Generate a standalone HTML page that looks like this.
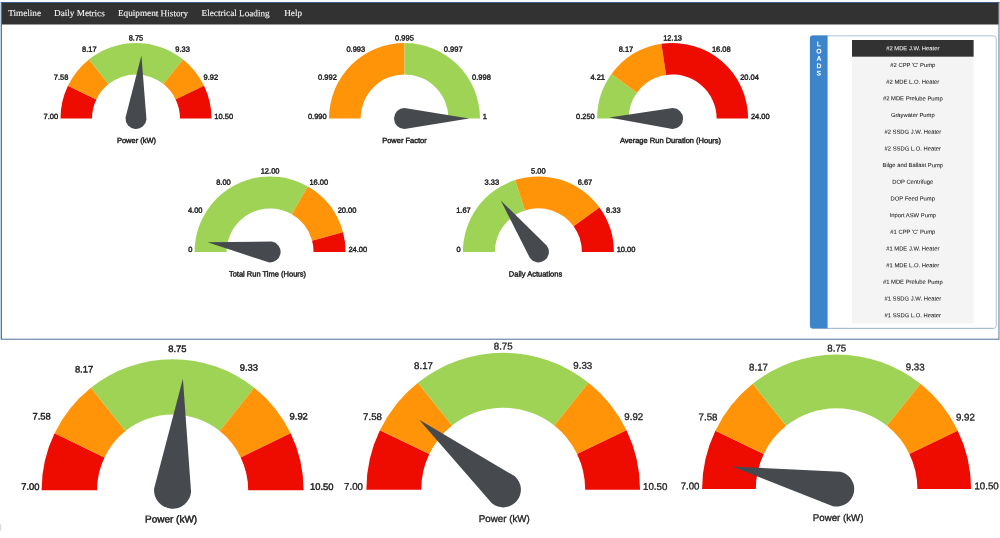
<!DOCTYPE html>
<html>
<head>
<meta charset="utf-8">
<title>Dashboard</title>
<style>
html, body { margin: 0; padding: 0; background: #fff; }
body { width: 1000px; height: 538px; position: relative; overflow: hidden;
  font-family: "Liberation Sans", sans-serif; }
svg { position: absolute; left: 0; top: 0; }
svg text { font-family: "Liberation Sans", sans-serif; }
#t { will-change: transform; }
</style>
</head>
<body>
<svg width="1000" height="538" viewBox="0 0 1000 538">
<!-- outer panel -->
<rect x="0" y="2" width="1" height="337.5" fill="#c4d8ee"/>
<rect x="1.45" y="2.5" width="997.55" height="336.7" fill="#fff" stroke="#4c7199" stroke-width="1"/>
<rect x="999.5" y="2" width="0.5" height="337.5" fill="#b5cbe6"/>
<!-- navbar -->
<rect x="1.95" y="2.6" width="996.6" height="21.9" fill="#323232"/>
<rect x="1" y="2" width="998.5" height="0.9" fill="#3f6187"/>
<ellipse cx="-0.6" cy="527.5" rx="2" ry="4.2" fill="#dcdcdc"/>
<!-- loads panel -->
<rect x="810.3" y="35.8" width="185.9" height="292.5" rx="2.5" fill="#fff" stroke="#a3bbd6" stroke-width="0.9"/>
<path d="M810 38.2a2.6 2.6 0 0 1 2.6 -2.6H827.6V328.4H812.6a2.6 2.6 0 0 1 -2.6 -2.6Z" fill="#3d85cb"/>
<rect x="812" y="328.2" width="182" height="0.8" fill="#8fa9c6" opacity="0.6"/>
<rect x="852.0" y="40.0" width="121.6" height="283.56" fill="#f4f4f4"/>
<rect x="852.0" y="40.0" width="121.6" height="16.68" fill="#323232"/>
<path d="M60.50 118.50A75.5 75.5 0 0 1 67.98 85.74L96.36 99.41A44.0 44.0 0 0 0 92.00 118.50Z" fill="#ee0c00"/>
<path d="M67.98 85.74A75.5 75.5 0 0 1 88.93 59.47L108.57 84.10A44.0 44.0 0 0 0 96.36 99.41Z" fill="#ff9408"/>
<path d="M88.93 59.47A75.5 75.5 0 0 1 183.07 59.47L163.43 84.10A44.0 44.0 0 0 0 108.57 84.10Z" fill="#9fd356"/>
<path d="M183.07 59.47A75.5 75.5 0 0 1 204.02 85.74L175.64 99.41A44.0 44.0 0 0 0 163.43 84.10Z" fill="#ff9408"/>
<path d="M204.02 85.74A75.5 75.5 0 0 1 211.50 118.50L180.00 118.50A44.0 44.0 0 0 0 175.64 99.41Z" fill="#ee0c00"/>
<path d="M146.46 119.40L141.41 55.43L125.54 117.60A10.5 10.5 0 0 0 135.10 128.96A10.5 10.5 0 0 0 146.46 119.40Z" fill="#464a4f"/>
<path d="M329.00 118.50A75.5 75.5 0 0 1 404.50 43.00L404.50 74.50A44.0 44.0 0 0 0 360.50 118.50Z" fill="#ff9408"/>
<path d="M404.50 43.00A75.5 75.5 0 0 1 480.00 118.50L448.50 118.50A44.0 44.0 0 0 0 404.50 74.50Z" fill="#9fd356"/>
<path d="M404.50 129.00L469.00 118.50L404.50 108.00A10.5 10.5 0 0 0 394.00 118.50A10.5 10.5 0 0 0 404.50 129.00Z" fill="#464a4f"/>
<path d="M597.10 118.50A75.5 75.5 0 0 1 611.52 74.12L637.00 92.64A44.0 44.0 0 0 0 628.60 118.50Z" fill="#9fd356"/>
<path d="M611.52 74.12A75.5 75.5 0 0 1 661.40 43.84L666.07 74.99A44.0 44.0 0 0 0 637.00 92.64Z" fill="#ff9408"/>
<path d="M661.40 43.84A75.5 75.5 0 0 1 748.10 118.50L716.60 118.50A44.0 44.0 0 0 0 666.07 74.99Z" fill="#ee0c00"/>
<path d="M672.75 108.00L609.31 117.62L672.45 129.00A10.5 10.5 0 0 0 683.10 118.65A10.5 10.5 0 0 0 672.75 108.00Z" fill="#464a4f"/>
<path d="M194.60 251.90A75.5 75.5 0 0 1 307.85 186.52L291.85 214.23A43.5 43.5 0 0 0 226.60 251.90Z" fill="#9fd356"/>
<path d="M307.85 186.52A75.5 75.5 0 0 1 343.03 232.36L312.12 240.64A43.5 43.5 0 0 0 291.85 214.23Z" fill="#ff9408"/>
<path d="M343.03 232.36A75.5 75.5 0 0 1 345.60 251.90L313.60 251.90A43.5 43.5 0 0 0 312.12 240.64Z" fill="#ee0c00"/>
<path d="M271.69 241.52L207.53 242.33L268.51 262.28A10.5 10.5 0 0 0 280.48 253.49A10.5 10.5 0 0 0 271.69 241.52Z" fill="#464a4f"/>
<path d="M462.90 251.90A75.5 75.5 0 0 1 515.07 180.10L524.96 210.53A43.5 43.5 0 0 0 494.90 251.90Z" fill="#9fd356"/>
<path d="M515.07 180.10A75.5 75.5 0 0 1 599.48 207.52L573.59 226.33A43.5 43.5 0 0 0 524.96 210.53Z" fill="#ff9408"/>
<path d="M599.48 207.52A75.5 75.5 0 0 1 613.90 251.90L581.90 251.90A43.5 43.5 0 0 0 573.59 226.33Z" fill="#ee0c00"/>
<path d="M546.87 245.70L500.90 200.66L529.93 258.10A10.5 10.5 0 0 0 544.60 260.37A10.5 10.5 0 0 0 546.87 245.70Z" fill="#464a4f"/>
<path d="M41.60 490.20A131.0 131.0 0 0 1 54.57 433.36L104.49 457.40A75.6 75.6 0 0 0 97.00 490.20Z" fill="#ee0c00"/>
<path d="M54.57 433.36A131.0 131.0 0 0 1 90.92 387.78L125.46 431.09A75.6 75.6 0 0 0 104.49 457.40Z" fill="#ff9408"/>
<path d="M90.92 387.78A131.0 131.0 0 0 1 254.28 387.78L219.74 431.09A75.6 75.6 0 0 0 125.46 431.09Z" fill="#9fd356"/>
<path d="M254.28 387.78A131.0 131.0 0 0 1 290.63 433.36L240.71 457.40A75.6 75.6 0 0 0 219.74 431.09Z" fill="#ff9408"/>
<path d="M290.63 433.36A131.0 131.0 0 0 1 303.60 490.20L248.20 490.20A75.6 75.6 0 0 0 240.71 457.40Z" fill="#ee0c00"/>
<path d="M191.07 491.91L182.91 378.68L154.13 488.49A18.55 18.55 0 0 0 170.89 508.67A18.55 18.55 0 0 0 191.07 491.91Z" fill="#464a4f"/>
<path d="M366.35 489.70A136.85 136.85 0 0 1 379.90 430.32L429.32 454.12A82.0 82.0 0 0 0 421.20 489.70Z" fill="#ee0c00"/>
<path d="M379.90 430.32A136.85 136.85 0 0 1 417.88 382.71L452.07 425.59A82.0 82.0 0 0 0 429.32 454.12Z" fill="#ff9408"/>
<path d="M417.88 382.71A136.85 136.85 0 0 1 588.52 382.71L554.33 425.59A82.0 82.0 0 0 0 452.07 425.59Z" fill="#9fd356"/>
<path d="M588.52 382.71A136.85 136.85 0 0 1 626.50 430.32L577.08 454.12A82.0 82.0 0 0 0 554.33 425.59Z" fill="#ff9408"/>
<path d="M626.50 430.32A136.85 136.85 0 0 1 640.05 489.70L585.20 489.70A82.0 82.0 0 0 0 577.08 454.12Z" fill="#ee0c00"/>
<path d="M514.53 476.10L419.15 419.67L491.87 503.30A17.7 17.7 0 0 0 516.80 501.03A17.7 17.7 0 0 0 514.53 476.10Z" fill="#464a4f"/>
<path d="M702.10 489.00A134.5 134.5 0 0 1 715.42 430.64L763.80 453.94A80.8 80.8 0 0 0 755.80 489.00Z" fill="#ee0c00"/>
<path d="M715.42 430.64A134.5 134.5 0 0 1 752.74 383.84L786.22 425.83A80.8 80.8 0 0 0 763.80 453.94Z" fill="#ff9408"/>
<path d="M752.74 383.84A134.5 134.5 0 0 1 920.46 383.84L886.98 425.83A80.8 80.8 0 0 0 786.22 425.83Z" fill="#9fd356"/>
<path d="M920.46 383.84A134.5 134.5 0 0 1 957.78 430.64L909.40 453.94A80.8 80.8 0 0 0 886.98 425.83Z" fill="#ff9408"/>
<path d="M957.78 430.64A134.5 134.5 0 0 1 971.10 489.00L917.40 489.00A80.8 80.8 0 0 0 909.40 453.94Z" fill="#ee0c00"/>
<path d="M840.30 471.79L731.70 466.42L832.90 506.21A17.6 17.6 0 0 0 853.81 492.70A17.6 17.6 0 0 0 840.30 471.79Z" fill="#464a4f"/>
</svg>
<svg id="t" width="1000" height="538" viewBox="0 0 1000 538">
<text x="8.2" y="16.1" transform="rotate(0.05 8.2 16.1)" font-size="9.2" fill="#f6f6f6" stroke="#f6f6f6" stroke-width="0.12" style="font-family:'Liberation Serif',serif">Timeline</text>
<text x="54.0" y="16.1" transform="rotate(0.05 54.0 16.1)" font-size="9.2" fill="#f6f6f6" stroke="#f6f6f6" stroke-width="0.12" style="font-family:'Liberation Serif',serif">Daily Metrics</text>
<text x="118.0" y="16.1" transform="rotate(0.05 118.0 16.1)" font-size="9.2" fill="#f6f6f6" stroke="#f6f6f6" stroke-width="0.12" style="font-family:'Liberation Serif',serif">Equipment History</text>
<text x="201.6" y="16.1" transform="rotate(0.05 201.6 16.1)" font-size="9.2" fill="#f6f6f6" stroke="#f6f6f6" stroke-width="0.12" style="font-family:'Liberation Serif',serif">Electrical Loading</text>
<text x="284.2" y="16.1" transform="rotate(0.05 284.2 16.1)" font-size="9.2" fill="#f6f6f6" stroke="#f6f6f6" stroke-width="0.12" style="font-family:'Liberation Serif',serif">Help</text>
<text x="912.80" y="50.35" transform="rotate(0.05 912.80 50.35)" font-size="5.85" text-anchor="middle" fill="#f2f2f2" stroke="#f2f2f2" stroke-width="0.06">#2 MDE J.W. Heater</text>
<text x="912.80" y="67.03" transform="rotate(0.05 912.80 67.03)" font-size="5.85" text-anchor="middle" fill="#222" stroke="#222" stroke-width="0.06">#2 CPP 'C' Pump</text>
<text x="912.80" y="83.71" transform="rotate(0.05 912.80 83.71)" font-size="5.85" text-anchor="middle" fill="#222" stroke="#222" stroke-width="0.06">#2 MDE L.O. Heater</text>
<text x="912.80" y="100.39" transform="rotate(0.05 912.80 100.39)" font-size="5.85" text-anchor="middle" fill="#222" stroke="#222" stroke-width="0.06">#2 MDE Prelube Pump</text>
<text x="912.80" y="117.07" transform="rotate(0.05 912.80 117.07)" font-size="5.85" text-anchor="middle" fill="#222" stroke="#222" stroke-width="0.06">Graywater Pump</text>
<text x="912.80" y="133.75" transform="rotate(0.05 912.80 133.75)" font-size="5.85" text-anchor="middle" fill="#222" stroke="#222" stroke-width="0.06">#2 SSDG J.W. Heater</text>
<text x="912.80" y="150.43" transform="rotate(0.05 912.80 150.43)" font-size="5.85" text-anchor="middle" fill="#222" stroke="#222" stroke-width="0.06">#2 SSDG L.O. Heater</text>
<text x="912.80" y="167.11" transform="rotate(0.05 912.80 167.11)" font-size="5.85" text-anchor="middle" fill="#222" stroke="#222" stroke-width="0.06">Bilge and Ballast Pump</text>
<text x="912.80" y="183.79" transform="rotate(0.05 912.80 183.79)" font-size="5.85" text-anchor="middle" fill="#222" stroke="#222" stroke-width="0.06">DOP Centrifuge</text>
<text x="912.80" y="200.47" transform="rotate(0.05 912.80 200.47)" font-size="5.85" text-anchor="middle" fill="#222" stroke="#222" stroke-width="0.06">DOP Feed Pump</text>
<text x="912.80" y="217.15" transform="rotate(0.05 912.80 217.15)" font-size="5.85" text-anchor="middle" fill="#222" stroke="#222" stroke-width="0.06">Inport ASW Pump</text>
<text x="912.80" y="233.83" transform="rotate(0.05 912.80 233.83)" font-size="5.85" text-anchor="middle" fill="#222" stroke="#222" stroke-width="0.06">#1 CPP 'C' Pump</text>
<text x="912.80" y="250.51" transform="rotate(0.05 912.80 250.51)" font-size="5.85" text-anchor="middle" fill="#222" stroke="#222" stroke-width="0.06">#1 MDE J.W. Heater</text>
<text x="912.80" y="267.19" transform="rotate(0.05 912.80 267.19)" font-size="5.85" text-anchor="middle" fill="#222" stroke="#222" stroke-width="0.06">#1 MDE L.O. Heater</text>
<text x="912.80" y="283.87" transform="rotate(0.05 912.80 283.87)" font-size="5.85" text-anchor="middle" fill="#222" stroke="#222" stroke-width="0.06">#1 MDE Prelube Pump</text>
<text x="912.80" y="300.55" transform="rotate(0.05 912.80 300.55)" font-size="5.85" text-anchor="middle" fill="#222" stroke="#222" stroke-width="0.06">#1 SSDG J.W. Heater</text>
<text x="912.80" y="317.23" transform="rotate(0.05 912.80 317.23)" font-size="5.85" text-anchor="middle" fill="#222" stroke="#222" stroke-width="0.06">#1 SSDG L.O. Heater</text>
<text x="818.9" y="46.28" transform="rotate(0.05 818.9 46.28)" font-size="6.9" font-weight="bold" text-anchor="middle" fill="#fff">L</text>
<text x="818.9" y="53.58" transform="rotate(0.05 818.9 53.58)" font-size="6.9" font-weight="bold" text-anchor="middle" fill="#fff">O</text>
<text x="818.9" y="60.88" transform="rotate(0.05 818.9 60.88)" font-size="6.9" font-weight="bold" text-anchor="middle" fill="#fff">A</text>
<text x="818.9" y="68.18" transform="rotate(0.05 818.9 68.18)" font-size="6.9" font-weight="bold" text-anchor="middle" fill="#fff">D</text>
<text x="818.9" y="75.48" transform="rotate(0.05 818.9 75.48)" font-size="6.9" font-weight="bold" text-anchor="middle" fill="#fff">S</text>
<text x="58.20" y="119.00" transform="rotate(0.05 58.20 119.00)" font-size="7.5" text-anchor="end" fill="#222" stroke="#222" stroke-width="0.42">7.00</text>
<text x="68.40" y="79.80" transform="rotate(0.05 68.40 79.80)" font-size="7.5" text-anchor="end" fill="#222" stroke="#222" stroke-width="0.42">7.58</text>
<text x="96.70" y="51.70" transform="rotate(0.05 96.70 51.70)" font-size="7.5" text-anchor="end" fill="#222" stroke="#222" stroke-width="0.42">8.17</text>
<text x="136.00" y="40.50" transform="rotate(0.05 136.00 40.50)" font-size="7.5" text-anchor="middle" fill="#222" stroke="#222" stroke-width="0.42">8.75</text>
<text x="175.30" y="51.70" transform="rotate(0.05 175.30 51.70)" font-size="7.5" text-anchor="start" fill="#222" stroke="#222" stroke-width="0.42">9.33</text>
<text x="203.60" y="79.80" transform="rotate(0.05 203.60 79.80)" font-size="7.5" text-anchor="start" fill="#222" stroke="#222" stroke-width="0.42">9.92</text>
<text x="214.30" y="119.00" transform="rotate(0.05 214.30 119.00)" font-size="7.5" text-anchor="start" fill="#222" stroke="#222" stroke-width="0.42">10.50</text>
<text x="136.50" y="143.10" transform="rotate(0.05 136.50 143.10)" font-size="7.5" text-anchor="middle" fill="#222" stroke="#222" stroke-width="0.42">Power (kW)</text>
<text x="326.70" y="119.00" transform="rotate(0.05 326.70 119.00)" font-size="7.5" text-anchor="end" fill="#222" stroke="#222" stroke-width="0.42">0.990</text>
<text x="336.90" y="79.80" transform="rotate(0.05 336.90 79.80)" font-size="7.5" text-anchor="end" fill="#222" stroke="#222" stroke-width="0.42">0.992</text>
<text x="365.20" y="51.70" transform="rotate(0.05 365.20 51.70)" font-size="7.5" text-anchor="end" fill="#222" stroke="#222" stroke-width="0.42">0.993</text>
<text x="404.50" y="40.50" transform="rotate(0.05 404.50 40.50)" font-size="7.5" text-anchor="middle" fill="#222" stroke="#222" stroke-width="0.42">0.995</text>
<text x="443.80" y="51.70" transform="rotate(0.05 443.80 51.70)" font-size="7.5" text-anchor="start" fill="#222" stroke="#222" stroke-width="0.42">0.997</text>
<text x="472.10" y="79.80" transform="rotate(0.05 472.10 79.80)" font-size="7.5" text-anchor="start" fill="#222" stroke="#222" stroke-width="0.42">0.998</text>
<text x="482.80" y="119.00" transform="rotate(0.05 482.80 119.00)" font-size="7.5" text-anchor="start" fill="#222" stroke="#222" stroke-width="0.42">1</text>
<text x="404.50" y="143.10" transform="rotate(0.05 404.50 143.10)" font-size="7.5" text-anchor="middle" fill="#222" stroke="#222" stroke-width="0.42">Power Factor</text>
<text x="594.80" y="119.00" transform="rotate(0.05 594.80 119.00)" font-size="7.5" text-anchor="end" fill="#222" stroke="#222" stroke-width="0.42">0.250</text>
<text x="605.00" y="79.80" transform="rotate(0.05 605.00 79.80)" font-size="7.5" text-anchor="end" fill="#222" stroke="#222" stroke-width="0.42">4.21</text>
<text x="633.30" y="51.70" transform="rotate(0.05 633.30 51.70)" font-size="7.5" text-anchor="end" fill="#222" stroke="#222" stroke-width="0.42">8.17</text>
<text x="672.60" y="40.50" transform="rotate(0.05 672.60 40.50)" font-size="7.5" text-anchor="middle" fill="#222" stroke="#222" stroke-width="0.42">12.13</text>
<text x="711.90" y="51.70" transform="rotate(0.05 711.90 51.70)" font-size="7.5" text-anchor="start" fill="#222" stroke="#222" stroke-width="0.42">16.08</text>
<text x="740.20" y="79.80" transform="rotate(0.05 740.20 79.80)" font-size="7.5" text-anchor="start" fill="#222" stroke="#222" stroke-width="0.42">20.04</text>
<text x="750.90" y="119.00" transform="rotate(0.05 750.90 119.00)" font-size="7.5" text-anchor="start" fill="#222" stroke="#222" stroke-width="0.42">24.00</text>
<text x="670.50" y="143.10" transform="rotate(0.05 670.50 143.10)" font-size="7.5" text-anchor="middle" fill="#222" stroke="#222" stroke-width="0.42">Average Run Duration (Hours)</text>
<text x="192.30" y="252.00" transform="rotate(0.05 192.30 252.00)" font-size="7.5" text-anchor="end" fill="#222" stroke="#222" stroke-width="0.42">0</text>
<text x="202.50" y="212.80" transform="rotate(0.05 202.50 212.80)" font-size="7.5" text-anchor="end" fill="#222" stroke="#222" stroke-width="0.42">4.00</text>
<text x="230.80" y="184.70" transform="rotate(0.05 230.80 184.70)" font-size="7.5" text-anchor="end" fill="#222" stroke="#222" stroke-width="0.42">8.00</text>
<text x="270.10" y="173.50" transform="rotate(0.05 270.10 173.50)" font-size="7.5" text-anchor="middle" fill="#222" stroke="#222" stroke-width="0.42">12.00</text>
<text x="309.40" y="184.70" transform="rotate(0.05 309.40 184.70)" font-size="7.5" text-anchor="start" fill="#222" stroke="#222" stroke-width="0.42">16.00</text>
<text x="337.70" y="212.80" transform="rotate(0.05 337.70 212.80)" font-size="7.5" text-anchor="start" fill="#222" stroke="#222" stroke-width="0.42">20.00</text>
<text x="348.40" y="252.00" transform="rotate(0.05 348.40 252.00)" font-size="7.5" text-anchor="start" fill="#222" stroke="#222" stroke-width="0.42">24.00</text>
<text x="267.50" y="276.60" transform="rotate(0.05 267.50 276.60)" font-size="7.5" text-anchor="middle" fill="#222" stroke="#222" stroke-width="0.42">Total Run Time (Hours)</text>
<text x="460.60" y="252.00" transform="rotate(0.05 460.60 252.00)" font-size="7.5" text-anchor="end" fill="#222" stroke="#222" stroke-width="0.42">0</text>
<text x="470.80" y="212.80" transform="rotate(0.05 470.80 212.80)" font-size="7.5" text-anchor="end" fill="#222" stroke="#222" stroke-width="0.42">1.67</text>
<text x="499.10" y="184.70" transform="rotate(0.05 499.10 184.70)" font-size="7.5" text-anchor="end" fill="#222" stroke="#222" stroke-width="0.42">3.33</text>
<text x="538.40" y="173.50" transform="rotate(0.05 538.40 173.50)" font-size="7.5" text-anchor="middle" fill="#222" stroke="#222" stroke-width="0.42">5.00</text>
<text x="577.70" y="184.70" transform="rotate(0.05 577.70 184.70)" font-size="7.5" text-anchor="start" fill="#222" stroke="#222" stroke-width="0.42">6.67</text>
<text x="606.00" y="212.80" transform="rotate(0.05 606.00 212.80)" font-size="7.5" text-anchor="start" fill="#222" stroke="#222" stroke-width="0.42">8.33</text>
<text x="616.70" y="252.00" transform="rotate(0.05 616.70 252.00)" font-size="7.5" text-anchor="start" fill="#222" stroke="#222" stroke-width="0.42">10.00</text>
<text x="535.50" y="276.60" transform="rotate(0.05 535.50 276.60)" font-size="7.5" text-anchor="middle" fill="#222" stroke="#222" stroke-width="0.42">Daily Actuations</text>
<text x="30.35" y="489.88" transform="rotate(0.05 30.35 489.88)" font-size="9.4" text-anchor="middle" fill="#222" stroke="#222" stroke-width="0.45">7.00</text>
<text x="41.60" y="419.48" transform="rotate(0.05 41.60 419.48)" font-size="9.4" text-anchor="middle" fill="#222" stroke="#222" stroke-width="0.45">7.58</text>
<text x="84.00" y="372.58" transform="rotate(0.05 84.00 372.58)" font-size="9.4" text-anchor="middle" fill="#222" stroke="#222" stroke-width="0.45">8.17</text>
<text x="177.30" y="352.08" transform="rotate(0.05 177.30 352.08)" font-size="9.4" text-anchor="middle" fill="#222" stroke="#222" stroke-width="0.45">8.75</text>
<text x="248.90" y="370.78" transform="rotate(0.05 248.90 370.78)" font-size="9.4" text-anchor="middle" fill="#222" stroke="#222" stroke-width="0.45">9.33</text>
<text x="298.70" y="419.48" transform="rotate(0.05 298.70 419.48)" font-size="9.4" text-anchor="middle" fill="#222" stroke="#222" stroke-width="0.45">9.92</text>
<text x="321.80" y="489.88" transform="rotate(0.05 321.80 489.88)" font-size="9.4" text-anchor="middle" fill="#222" stroke="#222" stroke-width="0.45">10.50</text>
<text x="171.10" y="522.50" transform="rotate(0.05 171.10 522.50)" font-size="10.0" text-anchor="middle" fill="#222" stroke="#222" stroke-width="0.45">Power (kW)</text>
<text x="353.50" y="489.89" transform="rotate(0.05 353.50 489.89)" font-size="9.7" text-anchor="middle" fill="#222" stroke="#222" stroke-width="0.32">7.00</text>
<text x="372.50" y="420.09" transform="rotate(0.05 372.50 420.09)" font-size="9.7" text-anchor="middle" fill="#222" stroke="#222" stroke-width="0.32">7.58</text>
<text x="423.50" y="368.99" transform="rotate(0.05 423.50 368.99)" font-size="9.7" text-anchor="middle" fill="#222" stroke="#222" stroke-width="0.32">8.17</text>
<text x="503.20" y="349.59" transform="rotate(0.05 503.20 349.59)" font-size="9.7" text-anchor="middle" fill="#222" stroke="#222" stroke-width="0.32">8.75</text>
<text x="582.80" y="368.89" transform="rotate(0.05 582.80 368.89)" font-size="9.7" text-anchor="middle" fill="#222" stroke="#222" stroke-width="0.32">9.33</text>
<text x="633.80" y="420.09" transform="rotate(0.05 633.80 420.09)" font-size="9.7" text-anchor="middle" fill="#222" stroke="#222" stroke-width="0.32">9.92</text>
<text x="655.20" y="489.89" transform="rotate(0.05 655.20 489.89)" font-size="9.7" text-anchor="middle" fill="#222" stroke="#222" stroke-width="0.32">10.50</text>
<text x="504.30" y="522.03" transform="rotate(0.05 504.30 522.03)" font-size="9.8" text-anchor="middle" fill="#222" stroke="#222" stroke-width="0.32">Power (kW)</text>
<text x="690.10" y="489.39" transform="rotate(0.05 690.10 489.39)" font-size="9.7" text-anchor="middle" fill="#222" stroke="#222" stroke-width="0.32">7.00</text>
<text x="708.00" y="420.39" transform="rotate(0.05 708.00 420.39)" font-size="9.7" text-anchor="middle" fill="#222" stroke="#222" stroke-width="0.32">7.58</text>
<text x="758.50" y="370.59" transform="rotate(0.05 758.50 370.59)" font-size="9.7" text-anchor="middle" fill="#222" stroke="#222" stroke-width="0.32">8.17</text>
<text x="836.80" y="351.49" transform="rotate(0.05 836.80 351.49)" font-size="9.7" text-anchor="middle" fill="#222" stroke="#222" stroke-width="0.32">8.75</text>
<text x="915.20" y="370.39" transform="rotate(0.05 915.20 370.39)" font-size="9.7" text-anchor="middle" fill="#222" stroke="#222" stroke-width="0.32">9.33</text>
<text x="965.40" y="420.59" transform="rotate(0.05 965.40 420.59)" font-size="9.7" text-anchor="middle" fill="#222" stroke="#222" stroke-width="0.32">9.92</text>
<text x="986.60" y="489.19" transform="rotate(0.05 986.60 489.19)" font-size="9.7" text-anchor="middle" fill="#222" stroke="#222" stroke-width="0.32">10.50</text>
<text x="838.10" y="521.09" transform="rotate(0.05 838.10 521.09)" font-size="9.7" text-anchor="middle" fill="#222" stroke="#222" stroke-width="0.32">Power (kW)</text>
</svg>
</body>
</html>
